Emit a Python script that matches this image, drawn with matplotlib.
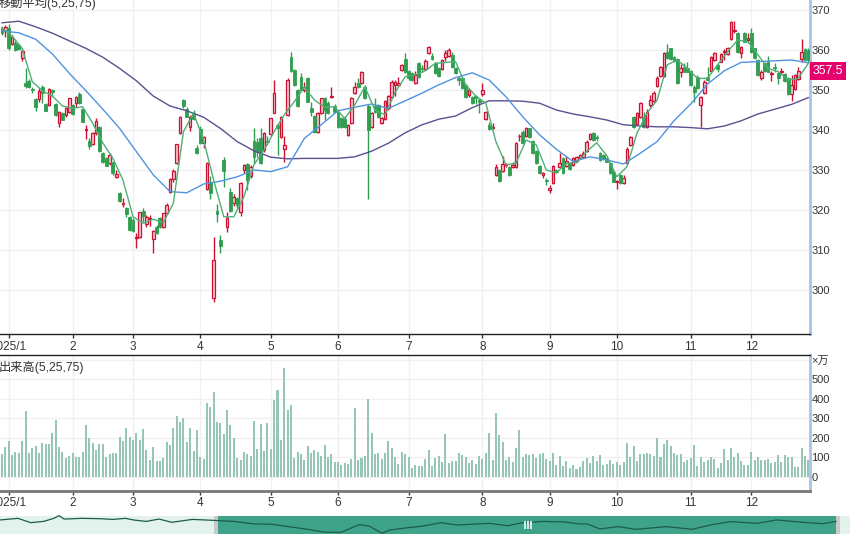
import numpy as np
import matplotlib
matplotlib.use('Agg')
import matplotlib.pyplot as plt

plt.rcParams['font.family'] = ['Liberation Sans', 'Noto Sans CJK JP', 'DejaVu Sans']

#%% data (one candle per trading day)
month_ticks = [2, 21, 39, 59, 80, 100, 121, 143, 163, 183, 205, 223]
month_labels = ['2025/1', '2', '3', '4', '5', '6', '7', '8', '9', '10', '11', '12']

opens = [365.4,364.8,365.4,361.5,361.7,361.2,358,351.8,352.3,350.3,
    347.8,347.7,350.7,346.5,346.3,350.1,346.5,341.8,344.3,343.8,
    344.6,346.2,346.8,349,345.2,340,337.3,336.5,339.2,340.8,
    334.3,332.9,331.8,331.9,328.3,324.2,321.6,320.4,318.3,317.5,
    313,313.3,319.8,316.5,317.8,312.7,315.8,317.9,315.8,319.2,
    324.6,327.7,331.7,339.2,347.5,345.2,340.8,344.3,335.6,340.2,
    336.8,325.2,327.1,297.9,319.8,312.5,332.5,315.8,324.6,321.7,
    322.9,319.6,330,331.4,328.5,337.3,337.1,337.9,335,337.3,
    338.9,344.3,341.2,338.3,335.2,343.8,358.3,355,350,353.3,
    350,352.9,345.4,343.5,339.6,344.2,347.9,346.7,348.2,346,
    344.6,342.9,342.7,338.8,341.8,349.2,351.7,351.7,350.7,346,
    340.8,346,346.3,341.8,342.7,345.4,348.3,351.3,351.3,355,
    357.7,354.8,354.2,351.8,356.7,355.6,355.2,359.3,358.5,356.7,
    355.4,355.2,358.2,358.5,358.8,355.4,352.9,352.9,351.3,348.8,
    348.3,348.5,347.5,349,342.7,341.3,340.4,328.8,330,329.8,
    331.2,330.7,330.7,330.8,338.4,339.6,338.5,340.4,337.3,334.8,
    331,328.8,327.6,325,326.8,330,330.7,332.9,331,331.8,
    331.3,332.3,332.9,333.3,334.8,337.7,339.3,338.3,334.2,333.8,
    332.9,331.8,329.6,327,328.8,326.8,331.7,336.3,343.3,341.5,
    343.3,343.3,340.7,346.3,347.3,351,353.5,353.5,359.6,360.4,
    358.2,357.7,354.6,355.7,355.4,354.8,350.7,353.3,346.3,349.3,
    353.3,354.8,357.5,356.3,357.1,359.6,359,362.7,364.7,364.3,
    359.2,364.2,362.5,364.2,360.4,357.5,352.9,356.8,357.1,354.1,
    355.7,354.2,354.5,354,352.9,349,350.2,352.7,357.7,360.2,360]

closes = [364.2,365.7,360.4,363.3,360,360.2,359.8,351,350.7,350.1,
    345.7,349.8,349.2,344.8,350.2,349.6,343.8,344.6,342.5,345.4,
    347.9,344,348.3,346.7,342.1,340.2,336,339.2,342.3,334.8,
    332,331.1,333.7,329.2,329,322.3,321.8,318.9,315,314.8,
    313.2,319.4,318.5,318.3,318,314.8,314.3,315.8,319.2,321.3,
    327.7,329.8,336.4,343.2,346,343.3,343.3,342.7,334.3,336.7,
    338.2,331.8,324.3,307.5,318.9,311,329.8,317.9,319.8,323.2,
    321.3,326.8,331.2,327.5,330.8,333.3,334.6,331.8,339.3,337,
    342.9,349.2,340.4,343.2,336.2,352.5,354.8,351.3,346,350,
    350.8,347.1,344.6,339.6,344.2,347.9,345,344.3,348.4,344.6,
    340.8,340.8,340.8,341.2,347.9,350.7,350.8,354.6,347.9,340,
    344.2,344.6,343.3,342.9,347.3,348.5,352.1,352.1,351.8,356.3,
    354.6,352.9,352.5,353.8,353.3,355.2,357.3,360.8,357.7,354.3,
    353.5,357.5,359.3,360,355.8,354.2,352.5,350.4,348.3,350,
    346.8,347.9,347.1,350,344.6,340.2,340.8,330.8,327.3,331.5,
    331.4,328.8,331.3,336.7,338.6,336.8,340.6,338.3,334.2,331.8,
    329.3,329.2,327.3,325.4,331,329.5,331.8,329.2,332.3,330.2,
    332.9,333.2,333.8,334.3,337.1,339,337.5,338,332.5,332.9,
    332.1,329.3,327.1,327.2,326.8,328,335.2,338.2,340.8,344.2,
    346.7,340.7,344.6,347.5,349.3,352.9,355.7,359.2,357.9,357.7,
    357.3,351.8,355.4,354.6,354.6,351.3,349.6,350.4,348.2,352.1,
    352.5,358.2,359.3,355.2,359,359.8,360.4,367.1,364.9,359.6,
    360.8,362.1,362.9,359.6,357.9,353.8,354.6,354.8,354.6,354.3,
    355.5,352.9,354.8,352.3,349,351.3,353.8,354.8,359.6,357.5,357.5]

highs = [366,366.2,366.5,363.7,362.5,361.5,360.4,355.4,352.8,350.7,
    348,350.4,351.2,346.7,350.4,350.2,346.8,344.8,344.6,345.7,
    348.1,346.5,348.4,349.4,345.4,341.2,337.9,339.5,342.9,341,
    334.6,333.2,334.2,332,330,324.6,322.9,320.8,318.6,318,
    314.2,319.5,320.4,318.8,318.8,315,316.2,318.2,319.3,321.7,
    328,330.2,336.5,343.4,347.7,345.7,343.7,345,336.2,341,
    338.6,332,328.5,313.3,321.4,313.8,333.3,319.6,325.6,324,
    323.2,327,331.6,331.7,331.2,340.4,337.9,340.4,339.5,338.5,
    343,352.5,341.7,343.5,338.5,352.9,359.6,355.3,350.3,354.3,
    352,353.3,347.1,343.8,344.4,348.1,348.3,347.2,350.8,346.4,
    345,343.2,343.6,341.5,348.2,352,352.9,354.8,351.3,346.4,
    344.5,347.9,346.6,343.2,347.6,348.8,352.4,352.5,353.3,356.5,
    359.3,355,354.4,354.7,357,356.2,357.8,361,359.2,357,
    355.7,357.7,360,360.4,359.4,355.7,353.5,353.2,351.6,350.6,
    348.6,348.8,347.9,351.7,344.8,342.1,341.7,331.5,330.3,333.5,
    331.8,331,332.1,337,339,339.9,340.8,340.6,337.6,335,
    331.3,329.6,328.1,326.3,331.2,330.3,334.2,333.2,333.5,332.1,
    333.2,333.5,334,334.7,337.4,339.3,339.5,338.7,334.5,334,
    333.2,332,329.9,327.5,329.1,328.8,335.8,338.5,343.5,344.4,
    346.9,344.5,345.2,348.8,349.7,353.5,355.9,359.4,361.5,360.6,
    358.4,358,356.5,356.7,357.1,355,351.3,353.7,348.4,352.4,
    355.8,358.4,359.5,356.7,359.3,360.2,360.7,367.3,367.3,364.6,
    361,364.4,364.2,365.4,360.6,357.8,354.9,357.1,358.5,354.8,
    356.7,354.5,355.4,354.2,353.2,353.8,354,355.8,362.7,360.5,360.5]

lows = [363.7,363.2,360,361.2,359.8,359.9,357.3,350.4,350.5,349.2,
    344.8,347,346.8,344.7,346,348.3,343.5,340.8,342.4,343.3,
    344.2,343.8,345.8,346.5,342,337.7,335.2,336.2,338.8,334.6,
    331.7,331,331.3,328.8,328,322,320.8,318.3,314.8,314.6,
    310.4,313.1,317.1,315.8,316,309.2,314.1,315.5,315.6,319,
    324.3,327,331.5,339,345.4,343.2,339.8,342.5,334,336.5,
    335.4,325,322.7,297.1,317.1,309.2,325.7,314.6,319.5,321.1,
    320.6,318.6,329.2,325,328,331.7,333.3,331.5,334.5,336.3,
    338.5,344.2,333.8,338,332.1,343.5,354.5,351,345.7,349.7,
    349.5,347,343.5,339.3,339.3,344,342.5,344.1,347.9,344.4,
    340.4,340.5,340.6,338.5,341.5,349,350.6,351.4,347.7,322.7,
    340.5,344.3,343,341.5,342.4,345.1,348,348.5,351,354.8,
    354.3,352.5,352.3,351.6,353,354.4,354.9,359.1,357.4,354,
    353.2,355,357.2,358.3,355.5,354,351.3,350.2,348,348.3,
    346.5,346.5,344.3,348.5,342.5,340,340.2,328.5,327,329.5,
    330.7,328.5,330.4,330.5,337.3,336.5,338.3,338,334,331.5,
    329,327.9,326.2,324.3,326.5,329.3,330.4,329,330.7,330,
    331,332.1,332.7,333,334.6,337.4,337.3,337.2,332.3,332.6,
    331.9,329,326.9,325.2,326.5,326.5,331.5,336,340.6,341.3,
    343,340.4,340.4,345.8,347,350.8,353.3,353.3,357.7,357.5,
    357.1,351.5,353.2,354.4,354.4,351,347.1,350.2,340.7,349,
    352.2,354.6,357.3,354.6,356.9,357.5,358.8,362.5,364.3,359.3,
    357.9,361.9,361.7,359.3,357.7,353.6,352.5,354.6,354.4,352.3,
    354.6,351.5,354,352,348.7,347.3,350,352.4,357.1,357.3,357]

volumes = [118,154,185,113,127,121,183,337,120,147,
    159,123,176,169,168,224,291,154,130,97,
    109,125,101,101,128,265,198,176,140,169,
    168,101,118,121,121,203,185,251,205,190,
    224,190,245,138,87,152,82,79,96,180,
    162,251,313,280,303,180,251,135,241,101,
    91,378,357,438,280,279,222,344,265,200,
    96,89,128,115,106,289,142,272,133,275,
    144,395,446,190,559,342,368,99,127,118,
    84,159,125,140,128,108,166,104,115,77,
    74,63,70,65,92,354,87,97,108,398,
    224,118,125,92,121,183,149,103,68,128,
    118,101,44,62,56,55,91,138,56,97,
    108,74,219,72,82,82,123,113,101,70,
    89,65,108,91,120,227,86,330,214,178,
    89,101,77,150,239,101,116,111,118,99,
    116,125,91,79,125,62,108,56,80,44,
    62,39,53,79,97,72,108,82,113,63,
    67,84,67,77,60,74,176,103,156,80,
    116,116,125,118,108,200,101,169,188,157,
    120,111,118,75,87,99,166,56,101,77,
    84,104,92,46,70,145,87,149,101,121,
    79,63,63,127,87,104,87,84,91,70,
    74,113,74,111,101,104,53,50,150,108,87]

# moving averages, read every 3rd / 5th / 5th day
ma5_step = 3
ma5 = [365.5,363.5,360.4,352.1,349.8,348.5,346,345.4,345.8,341.7,
    336.8,332.9,327.5,318.3,316.7,317.7,316.8,321.7,339.6,344.2,
    337.5,327.5,318.3,318.3,323.3,331.3,335,339.6,343.8,347.1,
    350.7,347.5,345.7,345.8,342.9,346.3,350.8,345,343.8,349.4,
    353.3,353.8,354.8,356.7,356.9,357.1,351.3,348.5,346.7,337.1,
    331.3,331.7,337.5,336.3,330,329.3,331.7,331.8,334.6,336.8,
    333.6,328.3,330.8,339.2,344.2,347.5,356.3,357.5,355.4,352.9,
    352.9,356.3,359.6,362.5,362.1,358.8,355.4,354.6,352.5,352.9,356.7]

ma25_step = 5
ma25 = [364.8,364.3,362.7,359,354.2,349.8,345.2,340.4,334.6,328.8,
    324.6,324.3,326.5,327.2,328.3,330,329.6,330.8,337.9,341.3,
    344.8,345.7,346.5,345.4,347.3,349.2,351.3,353.1,354.3,352.5,
    348.3,343.3,338.8,335.2,332.1,333.3,332.5,331.5,334.2,337.1,
    342.3,346.5,351.5,354.8,356.9,357.1,357.3,357.5,356.8]

ma75_step = 5
ma75 = [366.8,367.2,365.8,364.2,362.3,360.4,358.2,355.4,352.3,348.5,
    346,344.8,343.2,340.4,337.1,334.8,333.2,332.8,332.9,332.9,
    332.9,333.3,334.7,336.7,339.3,341.3,342.7,343.5,345.6,347.3,
    347.3,347.2,346.7,345,344,343.3,342.5,341.3,341,340.8,
    340.8,340.6,340.3,341,342.3,344,345.2,346.4,348.1]

# navigator overview (days relative to 2025/1, level in % of strip height)
nav_days = [-85,-78,-73,-68,-64,-62,-60,-53,-46,-41,-36,-33,-28,-23,-18,-10,-2,6,14,21,
    28,35,41,48,55,59,64,67,74,80,87,93,106,113,119,127,135,141,
    144,149,156,163,175,185,192,200,210,218,228,236,241]
nav_level = [78,87,63,70,87,102,83,87,85,81,87,78,70,83,65,81,76,70,56,54,
    40,26,11,9,52,44,4,22,35,44,63,50,59,46,63,70,67,56,
    56,28,41,26,41,26,50,69,59,78,65,57,70]

price_ticks = [300, 310, 320, 330, 340, 350, 360, 370]
vol_ticks = [0, 100, 200, 300, 400, 500, 600]
vol_labels = ['0', '100', '200', '300', '400', '500', '\u00d7\u4e07']

#%% colours
red = '#cc1133'
red_fill = '#f6c4ce'
green = '#2f9e4f'
grid_col = '#f0f0f0'
axis_blue = '#a9c4e4'
text_col = '#333333'
W, H = 865.0, 550.0

def panel(x0, y0, x1, y1):
    # pixel box (origin top left) to figure axes
    return fig.add_axes([x0/W, 1-y1/H, (x1-x0)/W, (y1-y0)/H])

fig = plt.figure(figsize=(8.65, 5.5), dpi=100)

ax = panel(0, 0, 810, 334)
ax2 = panel(0, 354.5, 810, 490.5)
nav = panel(0, 516, 850, 534)

days = np.arange(len(closes))
opens = np.array(opens)
closes = np.array(closes)

#%% candles
up = closes >= opens
ax.vlines(days[up], np.array(lows)[up], np.array(highs)[up], color=red, lw=1, zorder=3)
ax.vlines(days[~up], np.array(lows)[~up], np.array(highs)[~up], color=green, lw=1, zorder=3)
ax.bar(days[up], (closes-opens)[up], bottom=opens[up], width=0.8, facecolor=red_fill,
       edgecolor=red, linewidth=0.9, zorder=4)
ax.bar(days[~up], (opens-closes)[~up], bottom=closes[~up], width=0.85, facecolor=green,
       edgecolor=green, linewidth=0.6, zorder=4)

ax.plot(np.arange(len(ma75))*ma75_step, ma75, color='#5c4f8f', lw=1.0, zorder=5)
ax.plot(np.arange(len(ma25))*ma25_step, ma25, color='#4f93e0', lw=1.0, zorder=5)
ax.plot(np.arange(len(ma5))*ma5_step, ma5, color='#4fb077', lw=1.0, zorder=5)

ax.set_xlim(-0.6, 240.5)
ax.set_ylim(289, 372.5)
ax.set_yticks(price_ticks)

#%% volume
ax2.bar(days, volumes, width=0.6, color='#97c6b7', zorder=3)
ax2.set_xlim(-0.6, 240.5)
ax2.set_ylim(-70, 628)
ax2.set_yticks(vol_ticks)
ax2.set_yticklabels(vol_labels)

for a in (ax, ax2):
    a.grid(True, color=grid_col, lw=1)
    a.set_axisbelow(True)
    a.set_xticks(month_ticks)
    a.set_xticklabels(month_labels)
    a.yaxis.tick_right()
    a.tick_params(axis='y', length=0, pad=1, labelsize=8, labelcolor=text_col)
    a.tick_params(axis='x', length=3, width=1, pad=2, labelsize=8.5, labelcolor=text_col, color='#333333')
    a.spines['left'].set_visible(False)
    a.spines['right'].set_color(axis_blue)
    a.spines['right'].set_linewidth(2)

ax.spines['top'].set_visible(False)
ax.spines['bottom'].set_color('#222222')
ax.spines['bottom'].set_linewidth(1)
ax2.spines['top'].set_color('#222222')
ax2.spines['top'].set_linewidth(1)
ax2.spines['bottom'].set_color('#777777')
ax2.spines['bottom'].set_linewidth(2)

fig.text(-1/W, 1-3/H, '\u79fb\u52d5\u5e73\u5747(5,25,75)', fontsize=8.8, color=text_col, va='center')
fig.text(-1/W, 1-367/H, '\u51fa\u6765\u9ad8(5,25,75)', fontsize=8.8, color=text_col, va='center')

# last price tag
ax.annotate('%.1f' % closes[-1], xy=(1, closes[-1]), xycoords=('axes fraction', 'data'),
            xytext=(2.2, -8), textcoords='offset points', color='white', fontsize=8.8,
            va='center', ha='left', annotation_clip=False, zorder=10,
            bbox=dict(boxstyle='square,pad=0.24', fc='#e5006e', ec='none'))

#%% navigator
nav.set_xlim(-85, 246.5)
nav.set_ylim(0, 100)
nav.axvspan(-85, 246.5, color='#e4f2ee', lw=0, zorder=0)
nav.axvspan(0, 241, color='#3fa38a', lw=0, zorder=1)
nav.axvspan(-1.6, 0, color='#c9c9c9', lw=0, zorder=1)
nav.axvspan(241, 242.6, color='#c9c9c9', lw=0, zorder=1)
nav.plot(nav_days, nav_level, color='#1d5c4b', lw=0.9, clip_on=False, zorder=2)
for d in [119.6, 120.8, 122.0]:
    nav.vlines(d, 30, 70, color='#e8f4f0', lw=1.3, zorder=3)
nav.axis('off')

plt.savefig('out.png', dpi=100)
